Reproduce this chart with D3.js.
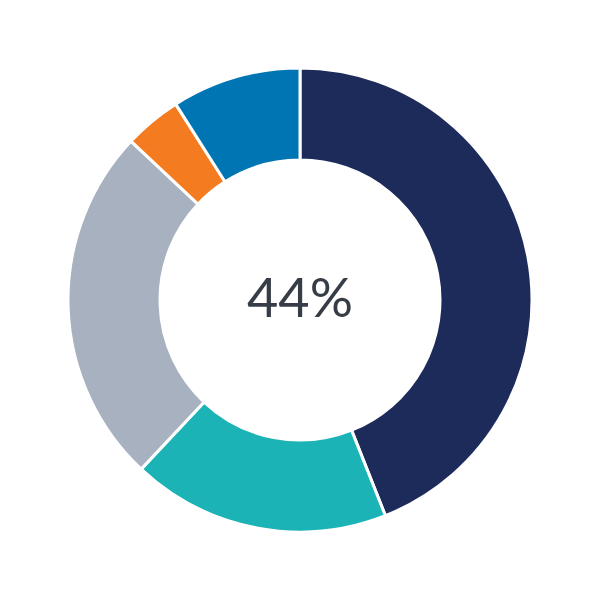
<!DOCTYPE html>
<html><head><meta charset="utf-8">
<script src="https://cdn.jsdelivr.net/npm/d3@7"></script>
<style>html,body{margin:0;padding:0;background:#fff;}</style>
</head><body>
<svg id="chart" width="600" height="600"></svg>
<script>
const categories = ["A", "B", "C", "D", "E"];
const values = [44, 18, 25, 4, 9];
const colors = ["#1d2b5a", "#1bb3b5", "#a7b1bf", "#f47b20", "#0075b4"];
const centerLabel = "44%";

const svg = d3.select("#chart");
const g = svg.append("g").attr("transform", "translate(300,300)");
const pie = d3.pie().sort(null).value(d => d.value);
const arc = d3.arc().innerRadius(140).outerRadius(232);
const data = categories.map((c, i) => ({ name: c, value: values[i], color: colors[i] }));

g.selectAll("path").data(pie(data)).join("path")
  .attr("d", arc)
  .attr("fill", d => d.data.color)
  .attr("stroke", "#fff")
  .attr("stroke-width", 3)
  .attr("stroke-linejoin", "miter");

g.append("text")
  .attr("text-anchor", "middle")
  .attr("y", 17)
  .attr("font-family", "Lato, 'Open Sans', sans-serif")
  .attr("font-weight", 400)
  .attr("font-size", 54)
  .attr("fill", "#373d47")
  .text(centerLabel);
</script>
</body></html>
